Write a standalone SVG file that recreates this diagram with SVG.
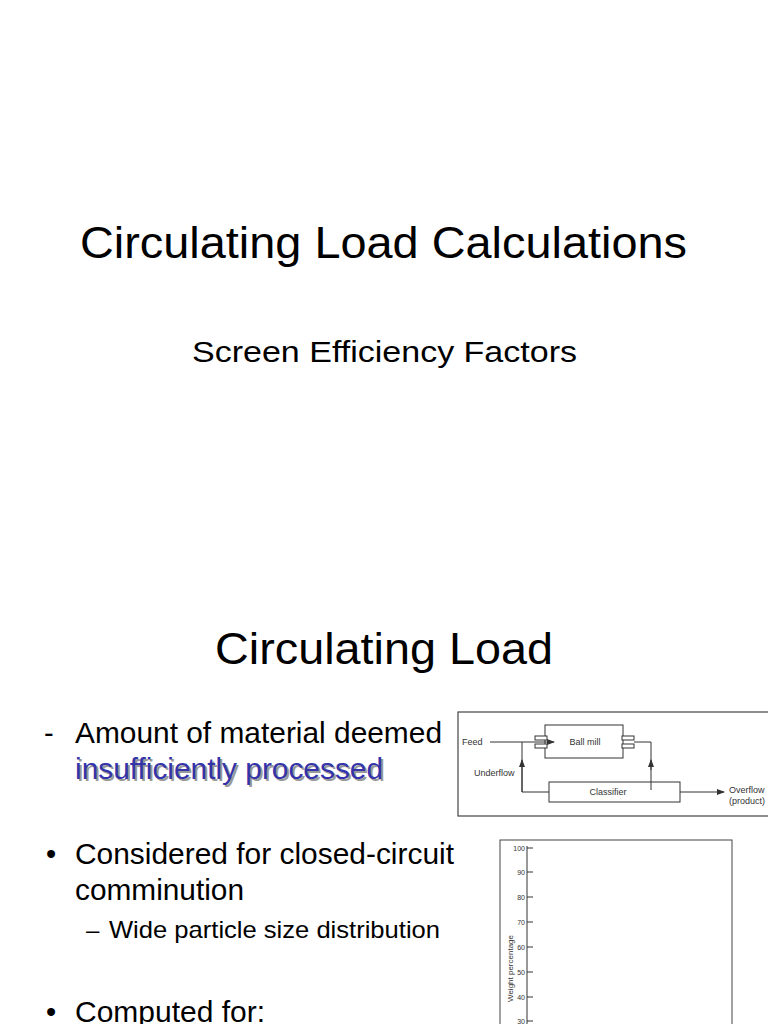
<svg xmlns="http://www.w3.org/2000/svg" width="768" height="1024" viewBox="0 0 768 1024">
<style>
.t{font-family:"Liberation Sans",Arial,sans-serif;fill:#000}
.s{font-family:"Liberation Sans",Arial,sans-serif;fill:#333;font-size:9px}
.ln{stroke:#333;stroke-width:1;fill:none}
</style>
<defs><marker id="a" markerWidth="8" markerHeight="6" refX="7" refY="3" orient="auto"><path d="M0,0L8,3L0,6z" fill="#333"/></marker></defs>
<rect width="768" height="1024" fill="#fff"/>
<text class="t" x="80" y="258" font-size="45" textLength="607" lengthAdjust="spacingAndGlyphs">Circulating Load Calculations</text>
<text class="t" x="192" y="362" font-size="30" textLength="385" lengthAdjust="spacingAndGlyphs">Screen Efficiency Factors</text>
<text class="t" x="215" y="664" font-size="45" textLength="338" lengthAdjust="spacingAndGlyphs">Circulating Load</text>
<text class="t" x="44" y="743" font-size="29">-</text>
<text class="t" x="75" y="743" font-size="29" textLength="367" lengthAdjust="spacingAndGlyphs">Amount of material deemed</text>
<text x="77" y="781" font-size="29" font-family="Liberation Sans,Arial,sans-serif" fill="#999" textLength="308" lengthAdjust="spacingAndGlyphs">insufficiently processed</text>
<text x="75" y="779" font-size="29" font-family="Liberation Sans,Arial,sans-serif" fill="#3333aa" textLength="308" lengthAdjust="spacingAndGlyphs">insufficiently processed</text>
<text class="t" x="46" y="864" font-size="29">•</text>
<text class="t" x="75" y="864" font-size="29" textLength="379" lengthAdjust="spacingAndGlyphs">Considered for closed-circuit</text>
<text class="t" x="75" y="900" font-size="29" textLength="169" lengthAdjust="spacingAndGlyphs">comminution</text>
<text class="t" x="86" y="938" font-size="24">–</text>
<text class="t" x="109" y="938" font-size="24" textLength="331" lengthAdjust="spacingAndGlyphs">Wide particle size distribution</text>
<text class="t" x="46" y="1022" font-size="29">•</text>
<text class="t" x="75" y="1022" font-size="29" textLength="190" lengthAdjust="spacingAndGlyphs">Computed for:</text>
<g id="flow">
<rect x="458" y="712" width="312" height="104" fill="#fff" stroke="#444" stroke-width="1.2"/>
<g id="ballmill"><rect x="545" y="725" width="78" height="33" fill="#fff" stroke="#333"/>
<rect x="535" y="736" width="12" height="4" fill="#fff" stroke="#333"/><rect x="535" y="744" width="12" height="4" fill="#fff" stroke="#333"/>
<rect x="622" y="736" width="12" height="4" fill="#fff" stroke="#333"/><rect x="622" y="744" width="12" height="4" fill="#fff" stroke="#333"/>
<text class="s" x="585" y="745" text-anchor="middle">Ball mill</text></g>
<g id="classifier"><rect x="549" y="782" width="131" height="20" fill="#fff" stroke="#333"/>
<text class="s" x="608" y="795" text-anchor="middle">Classifier</text></g>
<text class="s" x="462" y="745">Feed</text>
<text class="s" x="474" y="776">Underflow</text>
<text class="s" x="729" y="793">Overflow</text>
<text class="s" x="729" y="804">(product)</text>
<g id="connectors">
<path class="ln" d="M490,742H554" marker-end="url(#a)"/>
<path class="ln" d="M522,792V742"/><path class="ln" d="M549,792H522V760" marker-end="url(#a)"/>
<path class="ln" d="M634,742H651V790"/><path class="ln" d="M651,770V760" marker-end="url(#a)"/>
<path class="ln" d="M680,792H724" marker-end="url(#a)"/>
</g>
</g>
<g id="chart">
<rect x="500" y="840" width="232" height="190" fill="#fff" stroke="#444"/>
<path class="ln" d="M527,846V1024"/>
<path class="ln" d="M527,848h6M527,872h6M527,897h6M527,922h6M527,947h6M527,972h6M527,997h6M527,1021h6"/>
<g font-family="Liberation Sans,Arial,sans-serif" font-size="7" fill="#333" text-anchor="end">
<text x="525" y="851">100</text><text x="525" y="875">90</text><text x="525" y="900">80</text><text x="525" y="925">70</text><text x="525" y="950">60</text><text x="525" y="975">50</text><text x="525" y="1000">40</text><text x="525" y="1024">30</text></g>
<text font-family="Liberation Sans,Arial,sans-serif" font-size="8" fill="#333" transform="translate(513,1002) rotate(-90)">Weight percentage</text>
</g>
</svg>
